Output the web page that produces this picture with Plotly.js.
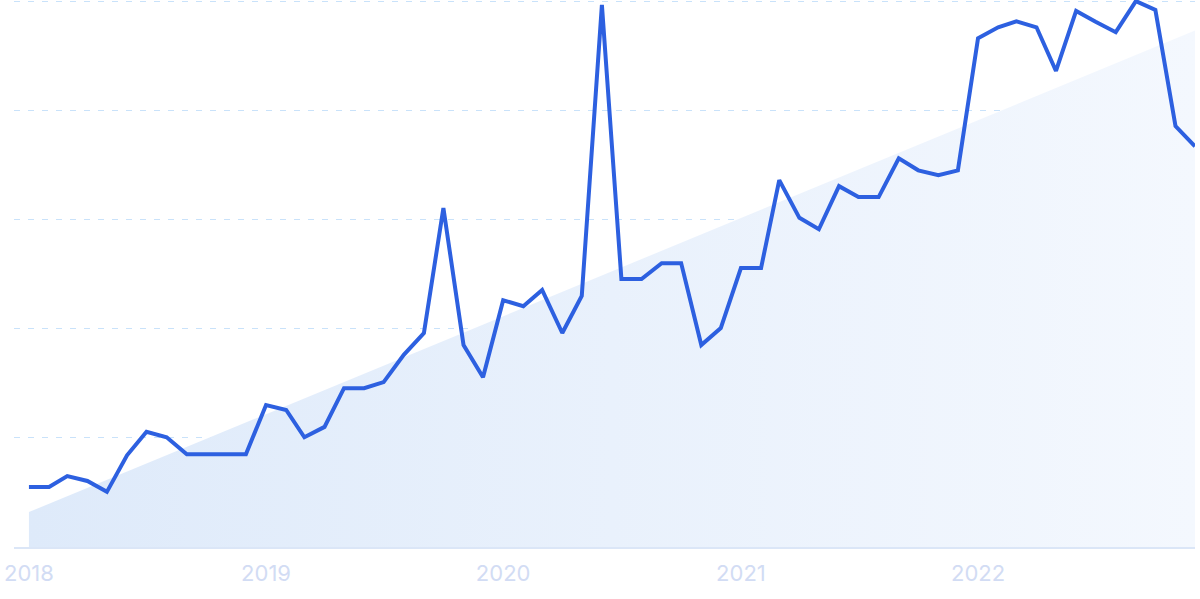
<!DOCTYPE html>
<html>
<head>
<meta charset="utf-8">
<script src="https://cdn.plot.ly/plotly-3.0.1.min.js"></script>
<style>
  html, body { margin: 0; padding: 0; background: #fff; }
  #chart { width: 1200px; height: 599px; }
</style>
</head>
<body>
<div id="chart"></div>
<script>
// monthly points, Jan 2018 - Dec 2022
const months = [
  '2018-01-01','2018-02-01','2018-03-01','2018-04-01','2018-05-01','2018-06-01','2018-07-01','2018-08-01','2018-09-01','2018-10-01','2018-11-01','2018-12-01',
  '2019-01-01','2019-02-01','2019-03-01','2019-04-01','2019-05-01','2019-06-01','2019-07-01','2019-08-01','2019-09-01','2019-10-01','2019-11-01','2019-12-01',
  '2020-01-01','2020-02-01','2020-03-01','2020-04-01','2020-05-01','2020-06-01','2020-07-01','2020-08-01','2020-09-01','2020-10-01','2020-11-01','2020-12-01',
  '2021-01-01','2021-02-01','2021-03-01','2021-04-01','2021-05-01','2021-06-01','2021-07-01','2021-08-01','2021-09-01','2021-10-01','2021-11-01','2021-12-01',
  '2022-01-01','2022-02-01','2022-03-01','2022-04-01','2022-05-01','2022-06-01','2022-07-01','2022-08-01','2022-09-01','2022-10-01','2022-11-01','2022-12-01'
];
const interest = [
  11.0, 11.0, 13.0, 12.1, 10.1, 16.8, 21.1, 20.1, 17.0, 17.0, 17.0, 17.0,
  26.0, 25.1, 20.1, 22.0, 29.1, 29.1, 30.2, 35.2, 39.2, 62.1, 37.0, 31.1,
  45.2, 44.1, 47.1, 39.2, 46.0, 99.3, 49.1, 49.1, 52.0, 52.0, 37.0, 40.1,
  51.1, 51.1, 67.2, 60.3, 58.2, 66.1, 64.1, 64.1, 71.2, 69.0, 68.1, 69.0,
  93.2, 95.2, 96.3, 95.2, 87.2, 98.2, 96.2, 94.3, 100, 98.4, 77.1, 73.4
];
// trend line end values
const trendX = ['2018-01-01', '2022-12-01'];
const trendY = [6.4, 94.6];
const yearTicks = ['2018-01-01', '2019-01-01', '2020-01-01', '2021-01-01', '2022-01-01'];
const yearLabels = ['2018', '2019', '2020', '2021', '2022'];

const trend = {
  x: trendX, y: trendY, type: 'scatter', mode: 'lines',
  line: { width: 0 },
  fill: 'tozeroy',
  fillgradient: {
    type: 'horizontal',
    colorscale: [[0, 'rgb(222,234,250)'], [1, 'rgb(244,248,254)']]
  },
  hoverinfo: 'skip'
};
const line = {
  x: months, y: interest, type: 'scatter', mode: 'lines',
  line: { color: '#2d60e0', width: 4 },
  cliponaxis: true
};

const layout = {
  width: 1200, height: 599,
  margin: { l: 14, r: 5, t: 0, b: 52 },
  paper_bgcolor: '#fff', plot_bgcolor: '#fff',
  showlegend: false,
  font: { family: 'Inter, sans-serif' },
  xaxis: {
    type: 'date',
    range: ['2017-12-09', '2022-12-01'],
    tickvals: yearTicks, ticktext: yearLabels,
    tickfont: { size: 22, color: '#d2dcf4' },
    ticks: '', showgrid: false, ticklabelstandoff: 6,
    showline: true, linecolor: '#dbe6f7', linewidth: 1.5,
    zeroline: false, fixedrange: true
  },
  yaxis: {
    range: [0, 100.2], tickvals: [20, 40, 60, 80, 100],
    showticklabels: false, ticks: '',
    showgrid: true, gridcolor: '#c9e2fa', griddash: '6px,8px', gridwidth: 1,
    zeroline: false, fixedrange: true
  }
};

Plotly.newPlot('chart', [trend, line], layout, { displayModeBar: false, staticPlot: true });
</script>
</body>
</html>
